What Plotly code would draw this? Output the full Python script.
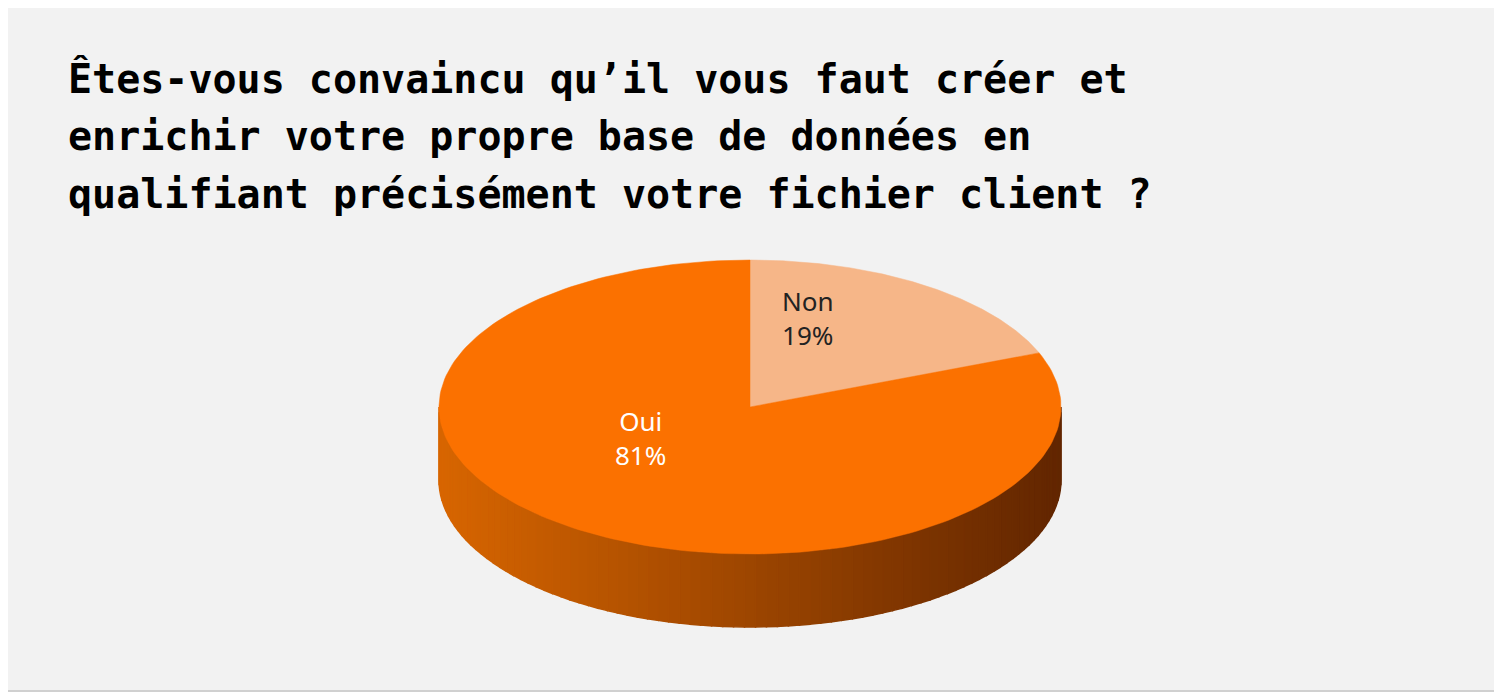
import numpy as np
import plotly.graph_objects as go

labels = ["Oui", "Non"]
values = [81, 19]
colors_top = ["#fb7100", "#f6b688"]
label_colors = ["white", "#222222"]
title_lines = ["Êtes-vous convaincu qu’il vous faut créer et",
               "enrichir votre propre base de données en",
               "qualifiant précisément votre fichier client ?"]

W, H = 1502, 692
OFF = 8  # page body margin compensation
cx, cy, rx, ry, depth = 750, 407, 311, 147, 73

def pt(t, dy=0):
    return cx + rx*np.sin(t), cy - ry*np.cos(t) + dy

fig = go.Figure()

ts = np.linspace(np.pi/2, 3*np.pi/2, 90)
c0 = np.array([0xd8, 0x66, 0x00]); c1 = np.array([0x62, 0x26, 0x00])
for i in range(len(ts)-1):
    a, b = ts[i], ts[i+1]
    xa, ya = pt(a); xb, yb = pt(b)
    f = ((xa+xb)/2 - (cx-rx)) / (2*rx)
    c = (c0 + (c1-c0)*f).astype(int)
    col = "rgb(%d,%d,%d)" % tuple(c)
    fig.add_trace(go.Scatter(x=[xa, xb, xb, xa, xa], y=[ya, yb, yb+depth, ya+depth, ya],
                             fill="toself", fillcolor=col, line=dict(width=1.5, color=col),
                             mode="lines", hoverinfo="skip", showlegend=False))

total = sum(values)
start = 0.0
label_pos = {0: (640, 438), 1: (808, 318)}
for k in [1, 0]:
    span = values[k]/total*2*np.pi
    t = np.linspace(start, start+span, 200)
    xs, ys = pt(t)
    fig.add_trace(go.Scatter(x=np.r_[cx, xs, cx], y=np.r_[cy, ys, cy], fill="toself",
                             fillcolor=colors_top[k], line=dict(width=0.5, color=colors_top[k]),
                             mode="lines", hoverinfo="skip", showlegend=False))
    lx, ly = label_pos[k]
    fig.add_annotation(x=lx, y=ly, text=f"{labels[k]}<br>{values[k]}%", showarrow=False,
                       font=dict(family="Noto Sans", size=26, color=label_colors[k]))
    start += span

for i, line in enumerate(title_lines):
    fig.add_annotation(x=66, y=78 + i*58, text=f"<b>{line}</b>", showarrow=False, xanchor="left",
                       font=dict(family="DejaVu Sans Mono", size=40, color="black"))

fig.add_shape(type="rect", x0=1, y0=1, x1=W-1, y1=H-1, line=dict(color="#d0d0d0", width=2))

fig.update_layout(width=W, height=H, margin=dict(l=0, r=0, t=0, b=0),
                  paper_bgcolor="#f2f2f2", plot_bgcolor="#f2f2f2",
                  xaxis=dict(range=[OFF, W+OFF], visible=False),
                  yaxis=dict(range=[H+OFF, OFF], visible=False))
fig.write_html("out.html")
